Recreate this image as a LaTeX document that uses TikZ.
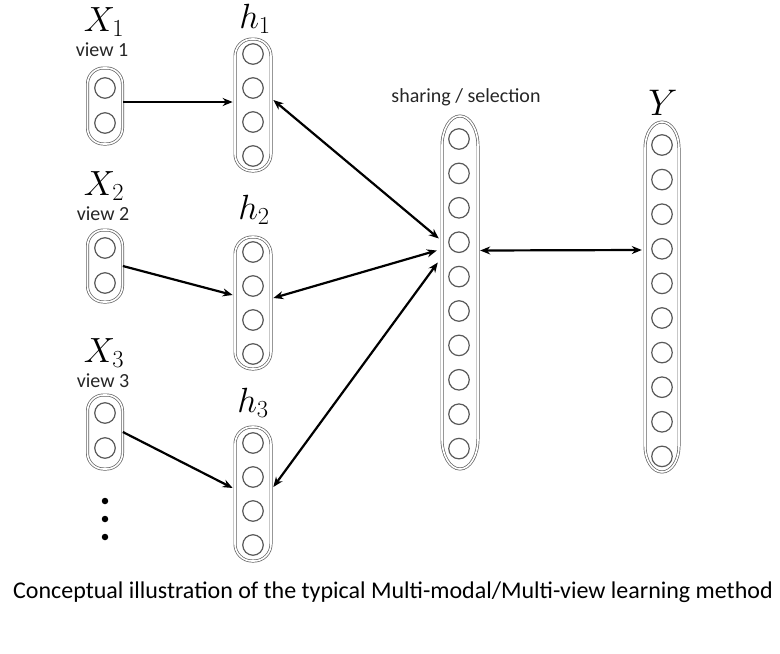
\documentclass[tikz,border=0pt]{standalone}
\usepackage{fix-cm}
\usepackage{fontspec}
\newfontfamily\calib{Carlito}
\usetikzlibrary{arrows.meta,calc}
\begin{document}
\begin{tikzpicture}[x=1pt,y=-1pt,
  boxline/.style={draw=gray!75!black, double=white, double distance=1.6pt, line width=0.7pt},
  box/.style={boxline, rounded corners=16pt, inner sep=0pt},
  anchorbox/.style={inner sep=0pt},
  unit/.style={circle, draw=gray!70!black, line width=1.2pt, minimum size=20.5pt, inner sep=0pt},
  arr/.style={line width=2.2pt, -{Stealth[length=10pt,width=8pt]}},
  darr/.style={line width=2.2pt, {Stealth[length=10pt,width=8pt]}-{Stealth[length=10pt,width=8pt]}},
  xlab/.style={font=\fontsize{35}{35}\selectfont},
  hlab/.style={font=\fontsize{35}{35}\selectfont},
  ylab/.style={font=\fontsize{37}{37}\selectfont},
  vlab/.style={font=\calib\fontsize{20}{20}\selectfont, text=black!85},
  dot/.style={circle, fill=black, minimum size=6.5pt, inner sep=0pt}]
\useasboundingbox (0,0) rectangle (780,654);
% input boxes
\node[box, minimum width=35pt, minimum height=76pt] (x1) at (105,106) {};
\node[box, minimum width=35pt, minimum height=72pt] (x2) at (105,266) {};
\node[box, minimum width=35pt, minimum height=74pt] (x3) at (105,432) {};
\node[unit] (x1c1) at (105,88) {};
\node[unit] (x1c2) at (105,123) {};
\node[unit] (x2c1) at (105,248) {};
\node[unit] (x2c2) at (105,283) {};
\node[unit] (x3c1) at (105,413) {};
\node[unit] (x3c2) at (105,448) {};
% hidden boxes
\node[box, minimum width=36pt, minimum height=132pt, rounded corners=17pt] (h1) at (253,105) {};
\node[box, minimum width=36pt, minimum height=132pt, rounded corners=17pt] (h2) at (253,303) {};
\node[box, minimum width=36pt, minimum height=134pt, rounded corners=17pt] (h3) at (253,494) {};
\foreach \k/\c in {1/105,2/303,3/494}{
  \node[unit] (h\k c1) at (253,\c-51) {};
  \node[unit] (h\k c2) at (253,\c-17) {};
  \node[unit] (h\k c3) at (253,\c+17) {};
  \node[unit] (h\k c4) at (253,\c+51) {};
}
% shared and output
\node[anchorbox, minimum width=36pt, minimum height=353pt] (sh) at (460,292.5) {};
\node[anchorbox, minimum width=34pt, minimum height=350pt] (y) at (662,297) {};
\draw[boxline] (442,146) arc[start angle=180, end angle=360, x radius=18, y radius=30]
  -- (478,439) arc[start angle=0, end angle=180, x radius=18, y radius=30] -- cycle;
\draw[boxline] (645,148) arc[start angle=180, end angle=360, x radius=17, y radius=26]
  -- (679,446) arc[start angle=0, end angle=180, x radius=17, y radius=26] -- cycle;
\foreach \i in {0,...,9}{
  \node[unit] (shc\i) at (459,139+34.4*\i) {};
  \node[unit] (yc\i) at (662,145+34.6*\i) {};
}
% dots
\node[dot] (d1) at (105,501) {};
\node[dot] (d2) at (105,519) {};
\node[dot] (d3) at (105,537) {};
% labels
\node[xlab] (lx1) at (104,22) {$X_1$};
\node[vlab] (lv1) at (102,50) {view 1};
\node[xlab] (lx2) at (104,186) {$X_2$};
\node[vlab] (lv2) at (103,214) {view 2};
\node[xlab] (lx3) at (104,353) {$X_3$};
\node[vlab] (lv3) at (103,381) {view 3};
\node[hlab] (lh1) at (255,19) {$h_1$};
\node[hlab] (lh2) at (254,210) {$h_2$};
\node[hlab] (lh3) at (253,403) {$h_3$};
\node[ylab] (ly) at (663,103) {$Y$};
\node[vlab] (lsh) at (466,97) {sharing / selection};
\node[font=\calib\fontsize{24}{24}\selectfont] (cap) at (393,592) {Conceptual illustration of the typical Multi-modal/Multi-view learning method};
% connectors
\draw[arr] ([yshift=4pt]x1.east) -- ([xshift=-2pt,yshift=3pt]h1.west);
\draw[arr] (x2.east) -- ([xshift=-2pt,yshift=8pt]h2.west);
\draw[arr] (x3.east) -- ([xshift=-2pt,yshift=6pt]h3.west);
\draw[darr] ([xshift=2pt,yshift=5pt]h1.east) -- ([xshift=-3pt,yshift=54pt]sh.west);
\draw[darr] ([xshift=2pt,yshift=5pt]h2.east) -- ([xshift=-5pt,yshift=42pt]sh.west);
\draw[darr] ([xshift=2pt,yshift=7pt]h3.east) -- ([xshift=-4pt,yshift=30pt]sh.west);
\draw[darr] ([xshift=2pt,yshift=42pt]sh.east) -- ([xshift=-3pt,yshift=47pt]y.west);
\end{tikzpicture}
\end{document}
